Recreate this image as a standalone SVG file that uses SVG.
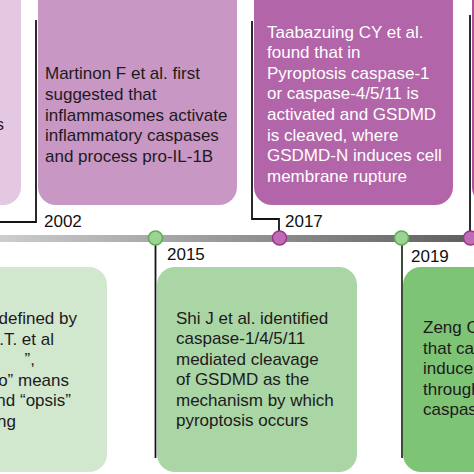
<svg xmlns="http://www.w3.org/2000/svg" width="474" height="474" viewBox="0 0 474 474">
  <defs>
    <linearGradient id="bar" x1="0" y1="0" x2="1" y2="0">
      <stop offset="0" stop-color="#cdcdcd"/>
      <stop offset="1" stop-color="#5e5e5e"/>
    </linearGradient>
  </defs>
  <style>
    text { font-family: "Liberation Sans", Arial, sans-serif; font-size: 17px; fill: #1e1a1e; }
    .wt { fill: #ffffff; }
    .yr { font-size: 17px; fill: #111111; }
    .conn { fill: none; stroke: #141414; stroke-width: 1.8; }
    .dot-g { fill: #9cd395; stroke: #5eae58; stroke-width: 1.6; }
    .dot-p { fill: #c06bb6; stroke: #953a87; stroke-width: 1.6; }
  </style>
  <rect width="474" height="474" fill="#ffffff"/>

  <!-- timeline bar -->
  <rect id="timeline" x="0" y="235" width="474" height="7" fill="url(#bar)"/>

  <g id="node-a">
    <rect x="-200" y="-20" width="221" height="225" rx="18" fill="#e4c8e1"/>
    <text x="-4.5" y="130">s</text>
  </g>

  <g id="node-2002">
    <rect x="38" y="-20" width="199" height="225" rx="18" fill="#c997c3"/>
    <text x="45" y="79">Martinon F et al. first</text>
    <text x="45" y="99.75">suggested that</text>
    <text x="45" y="120.5">inflammasomes activate</text>
    <text x="45" y="141.25">inflammatory caspases</text>
    <text x="45" y="162">and process pro-IL-1B</text>
  </g>

  <g id="node-2017">
    <rect x="254" y="-20" width="199" height="225" rx="18" fill="#b265a8"/>
    <text class="wt" x="267" y="37.7">Taabazuing CY et al.</text>
    <text class="wt" x="267" y="58.3">found that in</text>
    <text class="wt" x="267" y="78.8">Pyroptosis caspase-1</text>
    <text class="wt" x="267" y="99.4">or caspase-4/5/11 is</text>
    <text class="wt" x="267" y="120">activated and GSDMD</text>
    <text class="wt" x="267" y="140.6">is cleaved, where</text>
    <text class="wt" x="267" y="161.1">GSDMD-N induces cell</text>
    <text class="wt" x="267" y="181.7">membrane rupture</text>
  </g>

  <g id="node-g">
    <rect x="472" y="-20" width="200" height="225" rx="18" fill="#ad529d"/>
  </g>

  <g id="node-d">
    <rect x="-100" y="267" width="207" height="205" rx="18" fill="#d1e8ce"/>
    <text x="77" y="324" text-anchor="end">defined by</text>
    <text x="54" y="344.5" text-anchor="end">L.T. et al</text>
    <text x="35" y="365" text-anchor="end">”,</text>
    <text x="69" y="385.5" text-anchor="end">o” means</text>
    <text x="71" y="406" text-anchor="end">nd “opsis”</text>
    <text x="16" y="426.5" text-anchor="end">ng</text>
  </g>

  <g id="node-2015">
    <rect x="157" y="267" width="200" height="205" rx="18" fill="#aad5a4"/>
    <text x="176" y="323.5">Shi J et al. identified</text>
    <text x="176" y="344">caspase-1/4/5/11</text>
    <text x="176" y="364.5">mediated cleavage</text>
    <text x="176" y="385">of GSDMD as the</text>
    <text x="176" y="405.5">mechanism by which</text>
    <text x="176" y="426">pyroptosis occurs</text>
  </g>

  <g id="node-2019">
    <rect x="403" y="267" width="200" height="205" rx="18" fill="#7dc474"/>
    <text x="423" y="333">Zeng C</text>
    <text x="423" y="353.5">that ca</text>
    <text x="423" y="374">induce</text>
    <text x="423" y="394.5">through</text>
    <text x="423" y="415">caspas</text>
  </g>

  <g id="connectors">
    <polyline class="conn" points="36,20 36,222 -2,222"/>
    <polyline class="conn" points="252,21 252,219 279,219 279,232"/>
    <line class="conn" x1="155.5" y1="238" x2="155.5" y2="458"/>
    <line class="conn" x1="402" y1="238" x2="402" y2="458" style="stroke:#253825"/>
    <line class="conn" x1="470" y1="15" x2="470" y2="238"/>
  </g>

  <g id="dots">
    <circle class="dot-g" cx="155.5" cy="238" r="7"/>
    <circle class="dot-p" cx="279.5" cy="238" r="7"/>
    <circle class="dot-g" cx="401.5" cy="238" r="7"/>
    <circle class="dot-p" cx="470.5" cy="238" r="7"/>
  </g>

  <g id="years">
    <text class="yr" x="44" y="227">2002</text>
    <text class="yr" x="285" y="227">2017</text>
    <text class="yr" x="167" y="260">2015</text>
    <text class="yr" x="411" y="262">2019</text>
  </g>
</svg>
